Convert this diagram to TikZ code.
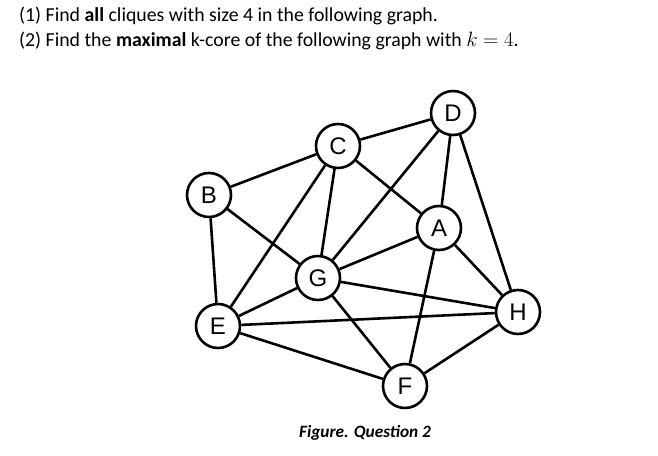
\documentclass[tikz,border=0pt]{standalone}
\usepackage{fontspec}
\setmainfont{Carlito}
\newfontfamily\arialf{Liberation Sans}
\begin{document}
\begin{tikzpicture}[x=1pt,y=-1pt,
  vtx/.style={circle,draw,line width=2.6pt,minimum size=44pt,inner sep=0pt,font=\arialf\fontsize{24}{24}\selectfont,fill=white},
  edge/.style={line width=2.6pt},
  ttl/.style={anchor=base west,inner sep=0pt,font=\fontsize{19.8}{22}\selectfont}]
\useasboundingbox (0,0) rectangle (658,455);
\node[ttl] (t1) at (19,21.7) {(1) Find \textbf{all} cliques with size 4 in the following graph.};
\node[ttl] (t2) at (19,46.7) {(2) Find the \textbf{maximal} k-core of the following graph with $k=4$.};
\node[vtx] (D) at (453,113) {D};
\node[vtx] (C) at (338,146) {C};
\node[vtx] (B) at (209,195) {B};
\node[vtx] (A) at (439,228) {A};
\node[vtx] (G) at (318,278) {G};
\node[vtx] (E) at (218,326) {E};
\node[vtx] (H) at (518,312) {H};
\node[vtx] (F) at (405,386) {F};
\foreach \a/\b in {C/D,B/C,C/A,C/G,C/E,D/A,D/G,D/H,B/G,B/E,A/G,A/H,A/F,G/E,G/H,G/F,E/H,E/F,F/H}
  \draw[edge] (\a) -- (\b);
\node[anchor=base,inner sep=0pt,font=\bfseries\itshape\fontsize{17.3}{19}\selectfont] (cap) at (365,437) {Figure. Question 2};
\end{tikzpicture}
\end{document}
